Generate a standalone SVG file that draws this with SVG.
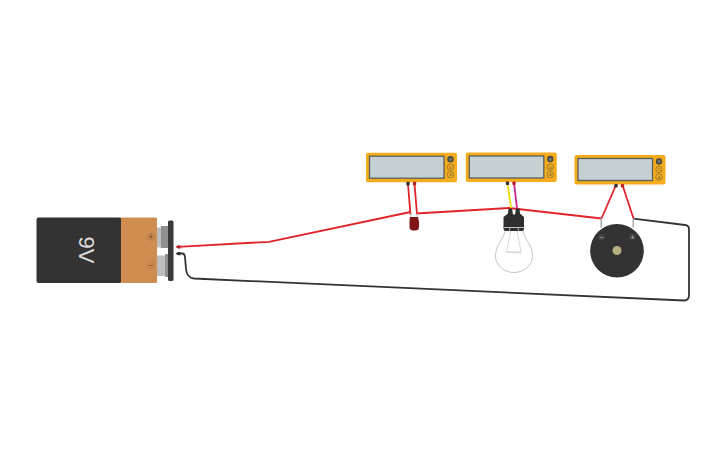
<svg xmlns="http://www.w3.org/2000/svg" width="725" height="453" viewBox="0 0 725 453">
<style>
.case{fill:#f4ac1c}
.screen{fill:#c6cfd1;stroke:#58605f;stroke-width:1.300}
.knob{fill:none;stroke:#7a6a3a;stroke-width:.7}
.knobd{fill:#4a4a44}
.r{fill:none;stroke:#e0242a;stroke-width:1.800;stroke-linejoin:round}
.k{fill:none;stroke:#333;stroke-width:1.800;stroke-linejoin:round}
.pb{fill:#333}
.pr{fill:#b3252a}
.sym{font-family:"Liberation Sans",sans-serif}
</style>
<defs>
<g id="meter">
<rect width="91" height="29.500" rx="2" class="case"/>
<rect x="3.500" y="3.500" width="74.500" height="22" class="screen"/>
<circle cx="84.500" cy="6.500" r="3.200" class="knobd"/>
<circle cx="84.500" cy="14.500" r="3.200" class="knob"/>
<circle cx="84.500" cy="22" r="3.200" class="knob"/>
<text x="84.500" y="16" text-anchor="middle" class="sym" font-size="4" fill="#7a6a3a">Ω</text>
<text x="84.500" y="23.500" text-anchor="middle" class="sym" font-size="4" fill="#7a6a3a">A</text>
<text x="84.500" y="8" text-anchor="middle" class="sym" font-size="4" fill="#ccc">V</text>
</g>
</defs>
<rect width="725" height="453" fill="#fff"/>
<g id="connectors">
<path class="r" d="M178 246.800L269 241.800L410.500 212"/>
<path class="r" d="M416 213.500L509 208L601.500 218.500"/>
<path class="k" d="M178 253.500H182.500Q184.500 253.500 185 257L186 269Q187 278 194 278.500L684 300.500Q689 300.500 689 295V229Q689 225.500 685 225L633.500 218.700"/>
<path class="r" d="M408 184L410.500 215"/>
<path class="r" d="M414.500 184L417 214"/>
<path class="r" d="M616 185L601.500 218.500"/>
<path class="r" d="M622.500 185L633.500 218.500"/>
<path d="M507.500 183L511 208" fill="none" stroke="#f5d90a" stroke-width="1.800"/>
<path d="M514 183L517 208" fill="none" stroke="#c8248c" stroke-width="1.800"/>
</g>
<g id="battery">
<rect x="36.500" y="217.500" width="85" height="65.500" rx="2" fill="#333"/>
<path d="M121 217.500H155.500Q157 217.500 157 219V281.500Q157 283 155.500 283H121Z" fill="#cf8d52"/>
<rect x="157" y="227.500" width="5" height="20" fill="#bdbdbd"/>
<rect x="161" y="226" width="7.500" height="22" fill="#909090"/>
<rect x="157" y="255.500" width="9" height="20.500" fill="#bdbdbd"/>
<rect x="165" y="254" width="3.500" height="23" fill="#909090"/>
<rect x="168" y="220.500" width="5.500" height="60.500" rx="1.500" fill="#3a3a3a"/>
<circle cx="151" cy="236.800" r="3.500" fill="none" stroke="#a87240" stroke-width=".6"/>
<circle cx="151" cy="265.200" r="3.500" fill="none" stroke="#a87240" stroke-width=".6"/>
<text x="151" y="239.700" text-anchor="middle" class="sym" font-size="9" fill="#5a4226">+</text>
<text x="151" y="268" text-anchor="middle" class="sym" font-size="8" fill="#5a4226">−</text>
<text transform="translate(78.500 250) rotate(90)" text-anchor="middle" class="sym" font-size="22" fill="#ddd">9V</text>
<path d="M175.500 246.900L178 245.200H180.500V248.400H178Z" class="pr"/>
<path d="M175.500 253.600L178 252H180.500V255.200H178Z" class="pb"/>
</g>
<g id="meter1">
<use href="#meter" x="366" y="152.700"/>
<rect x="406.300" y="181.800" width="3.400" height="3.600" rx="1" class="pb"/>
<rect x="412.800" y="181.800" width="3.400" height="3.600" rx="1" class="pr"/>
</g>
<g id="meter2">
<use href="#meter" x="465.800" y="152.500"/>
<rect x="505.800" y="181.500" width="3.400" height="3.600" rx="1" class="pb"/>
<rect x="512.300" y="181.500" width="3.400" height="3.600" rx="1" class="pr"/>
</g>
<g id="meter3">
<use href="#meter" x="574.500" y="155"/>
<rect x="614.300" y="184" width="3.400" height="3.600" rx="1" class="pb"/>
<rect x="620.800" y="184" width="3.400" height="3.600" rx="1" class="pr"/>
</g>
<g id="led">
<path d="M409.800 217H418L419 222V227Q419 230.500 415 230.500H413.500Q409.500 230.500 409.500 227V222Z" fill="#7f1518"/>
<path d="M411 217L410.500 213.500M417 217L417 213.500" stroke="#ccc" stroke-width="1"/>
</g>
<g id="bulb">
<path d="M505.500 229C505 238 495.500 244 495.500 256A18.500 16.500 0 0 0 532.500 256C532.500 244 523 238 522.500 229" fill="#fff" stroke="#aaa" stroke-width=".7"/>
<path d="M511 231L506.500 252H521L517 231M506.500 252L521 253" fill="none" stroke="#c8c8c8" stroke-width=".7"/>
<path d="M508.500 208.500H512L513 214.500H515L516 208.500H519.500L520 213.500L524 217V229Q524 231 522 231H506Q503.500 231 503.500 229V217L508 213.500Z" fill="#2f2f2f"/>
<path d="M504 227.500H524" stroke="#fff" stroke-width=".7"/>
<path d="M510 227.500L509.500 231M518 227.500L518.500 231" stroke="#ddd" stroke-width=".7"/>
</g>
<g id="buzzer">
<rect x="600.500" y="218.500" width="1.500" height="9" fill="#aaa"/>
<rect x="632.500" y="218.500" width="1.500" height="9" fill="#aaa"/>
<circle cx="617" cy="250.700" r="26.800" fill="#333"/>
<circle cx="617" cy="250.500" r="4.500" fill="#b9ae80"/>
<circle cx="601.500" cy="237" r="3.300" fill="#444"/>
<circle cx="632.500" cy="237" r="3.300" fill="#444"/>
<text x="601.500" y="239.500" text-anchor="middle" class="sym" font-size="7" fill="#bbb">−</text>
<text x="632.500" y="239.500" text-anchor="middle" class="sym" font-size="7" fill="#bbb">+</text>
</g>
</svg>
